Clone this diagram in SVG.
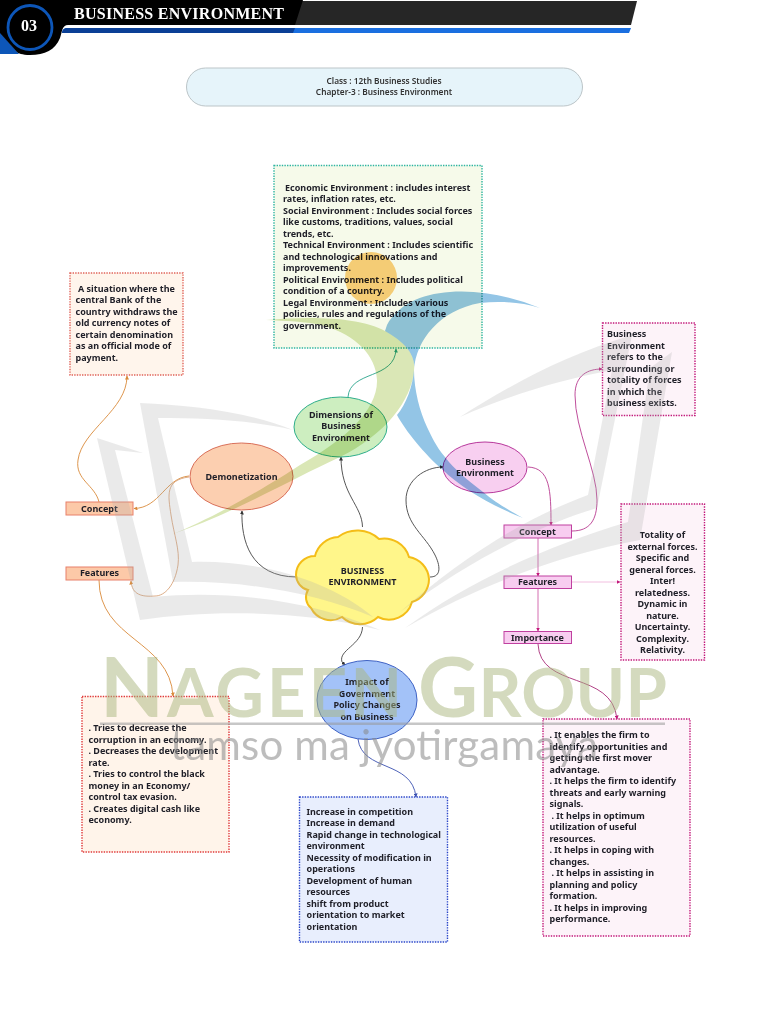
<svg xmlns="http://www.w3.org/2000/svg" width="768" height="1024" viewBox="0 0 768 1024">
<style>
text{font-family:"Noto Sans","DejaVu Sans",sans-serif;font-weight:700;font-size:9px;fill:#1f1f28}
.c{text-anchor:middle}
.box{stroke-width:1.400;stroke-dasharray:1.400 1.200}
.lab{stroke-width:1}
.con{fill:none;stroke-width:.9}
.sw{mix-blend-mode:multiply}
.wm{fill:#aaa;opacity:.25}
.wt{font-family:Lato,"Noto Sans",sans-serif;font-weight:700;fill:#aab77f;opacity:.5}
</style>
<defs>
<marker id="mk" markerWidth="4" markerHeight="4" refX="3.500" refY="2" orient="auto" markerUnits="userSpaceOnUse"><path d="M0,0L4,2L0,4Z" fill="#333"/></marker>
<marker id="mb" markerWidth="4" markerHeight="4" refX="3.500" refY="2" orient="auto" markerUnits="userSpaceOnUse"><path d="M0,0L4,2L0,4Z" fill="#3a50b0"/></marker>
<marker id="mt" markerWidth="4" markerHeight="4" refX="3.500" refY="2" orient="auto" markerUnits="userSpaceOnUse"><path d="M0,0L4,2L0,4Z" fill="#2aa58c"/></marker>
<marker id="mo" markerWidth="4" markerHeight="4" refX="3.500" refY="2" orient="auto" markerUnits="userSpaceOnUse"><path d="M0,0L4,2L0,4Z" fill="#d98a3a"/></marker>
<marker id="mp" markerWidth="4" markerHeight="4" refX="3.500" refY="2" orient="auto" markerUnits="userSpaceOnUse"><path d="M0,0L4,2L0,4Z" fill="#c2187a"/></marker>
</defs>
<rect width="768" height="1024" fill="#fff"/>

<g id="header">
<path d="M0,32L19,54H0Z" fill="#0d56b8"/>
<path d="M290,25L300,1H637L631,25Z" fill="#262626"/>
<path d="M0,0H303L295,25H68C62,25 62,32 60,38C55,50 45,55 30,55C22,55 18,53 17,52L0,33Z" fill="#000"/>
<path d="M66,28H631L629,33H62Q62,29 66,28Z" fill="#1a6fe0"/>
<path d="M66,28H295L293,33H62Q62,29 66,28Z" fill="#0a3f96"/>
<circle cx="30" cy="27.500" r="22" fill="none" stroke="#0d56b8" stroke-width="2.800"/>
<text x="29" y="30.500" class="c" style="font-family:'Liberation Serif',serif;font-weight:700;font-size:16px;fill:#fff">03</text>
<text x="74" y="18.500" textLength="210" style="font-family:'Liberation Serif',serif;font-weight:700;font-size:16px;fill:#fff">BUSINESS ENVIRONMENT</text>
</g>

<g id="title">
<rect x="186.500" y="68" width="396" height="38" rx="19" fill="#e6f4fa" stroke="#bcc5c8" stroke-width="1"/>
<text class="c" x="384" y="84" style="font-size:8.300px;font-weight:600;fill:#333">Class : 12th Business Studies</text>
<text class="c" x="384" y="95" style="font-size:8.300px;font-weight:600;fill:#333">Chapter-3 : Business Environment</text>
</g>

<g id="connectors">
<path class="con" stroke="#444" marker-end="url(#mk)" d="M297,577C250,577 241,540 242,511"/>
<path class="con" stroke="#444" marker-end="url(#mk)" d="M362.500,527C362,505 341,495 341,457"/>
<path class="con" stroke="#444" marker-end="url(#mk)" d="M430,577C442,577 440,565 435,555C425,535 406,525 406,500C406,480 425,467 443,467"/>
<path class="con" stroke="#444" marker-end="url(#mk)" d="M362.500,627C362,645 338,650 342,662L345,665"/>
<path class="con" stroke="#3a50b0" marker-end="url(#mb)" d="M358,739C362,772 412,760 416,797"/>
<path class="con" stroke="#2aa58c" marker-end="url(#mt)" d="M348,397C350,370 395,380 396,349"/>
<path class="con" stroke="#d98a3a" marker-end="url(#mo)" d="M189,476C165,478 160,508 134,508.500"/>
<path class="con" stroke="#d9a47a" marker-end="url(#mo)" d="M189,477C165,480 168,495 171,515C174,535 180,550 178,565C175,585 165,596 155,596C142,597 132,595 131,581"/>
<path class="con" stroke="#d98a3a" marker-end="url(#mo)" d="M99,502C95,485 75,480 78,460C82,430 127,410 127,376"/>
<path class="con" stroke="#d98a3a" marker-end="url(#mo)" d="M99,580C99,640 170,640 173,696"/>
<path class="con" stroke="#b83a90" marker-end="url(#mp)" d="M528,467C550,468 551,490 551,525"/>
<path class="con" stroke="#b83a90" marker-end="url(#mp)" d="M572,531C590,531 597,520 597,500C597,470 575,430 575,395C575,375 588,369 602,369"/>
<path class="con" stroke="#cf5ea8" stroke-width="1.200" marker-end="url(#mp)" d="M538,538V576"/>
<path class="con" stroke="#cf5ea8" stroke-width="1.200" marker-end="url(#mp)" d="M538,589V631"/>
<path class="con" stroke="#f0b8dc" marker-end="url(#mp)" d="M572,582H620"/>
<path class="con" stroke="#a82c78" marker-end="url(#mp)" d="M538,644C540,690 612,670 617,719"/>
</g>

<g id="n-economic">
<rect class="box" x="274" y="165.500" width="208" height="182.500" fill="#f6faea" stroke="#2fb5a0"/>
<text x="283" y="190.500"><tspan x="285">Economic Environment : includes interest</tspan><tspan x="283" dy="11.500">rates, inflation rates, etc.</tspan><tspan x="283" dy="11.500">Social Environment : Includes social forces</tspan><tspan x="283" dy="11.500">like customs, traditions, values, social</tspan><tspan x="283" dy="11.500">trends, etc.</tspan><tspan x="283" dy="11.500">Technical Environment : Includes scientific</tspan><tspan x="283" dy="11.500">and technological innovations and</tspan><tspan x="283" dy="11.500">improvements.</tspan><tspan x="283" dy="11.500">Political Environment : Includes political</tspan><tspan x="283" dy="11.500">condition of a country.</tspan><tspan x="283" dy="11.500">Legal Environment : Includes various</tspan><tspan x="283" dy="11.500">policies, rules and regulations of the</tspan><tspan x="283" dy="11.500">government.</tspan></text>
</g>
<g id="n-demon-concept">
<rect class="box" x="70" y="273" width="113" height="102" fill="#fff5ec" stroke="#e0645a"/>
<text x="75.500" y="291.500"><tspan x="78">A situation where the</tspan><tspan x="75.500" dy="11.500">central Bank of the</tspan><tspan x="75.500" dy="11.500">country withdraws the</tspan><tspan x="75.500" dy="11.500">old currency notes of</tspan><tspan x="75.500" dy="11.500">certain denomination</tspan><tspan x="75.500" dy="11.500">as an official mode of</tspan><tspan x="75.500" dy="11.500">payment.</tspan></text>
</g>
<g id="n-dimensions">
<ellipse cx="340.500" cy="427" rx="46.500" ry="30" fill="#cdeec0" stroke="#2fae8c" stroke-width="1"/>
<text class="c" x="341" y="417.500">Dimensions of<tspan x="341" dy="11.500">Business</tspan><tspan x="341" dy="11.500">Environment</tspan></text>
</g>
<g id="n-demonetization">
<ellipse cx="241.500" cy="476.500" rx="51.500" ry="33.500" fill="#fccfb0" stroke="#d9705a" stroke-width="1"/>
<text class="c" x="241.500" y="479.500">Demonetization</text>
</g>
<g id="n-business">
<ellipse cx="485" cy="467.500" rx="42" ry="25.500" fill="#f8cff0" stroke="#b8389c" stroke-width="1"/>
<text class="c" x="485" y="464.500">Business<tspan x="485" dy="11.500">Environment</tspan></text>
</g>
<g id="n-concept-left">
<rect class="lab" x="66" y="502" width="67" height="13" fill="#fcc9a8" stroke="#e8806a"/>
<text class="c" x="99.500" y="511.500">Concept</text>
</g>
<g id="n-features-left">
<rect class="lab" x="66" y="567" width="67" height="13" fill="#fcc9a8" stroke="#e8806a"/>
<text class="c" x="99.500" y="576">Features</text>
</g>
<g id="n-cloud">
<path d="M296,575A19,19 0 0 1 315,556A25,25 0 0 1 338,537A32,32 0 0 1 379,539A26,26 0 0 1 409,557A24,24 0 0 1 429,579A24,24 0 0 1 412,602A24,24 0 0 1 378,617A26,26 0 0 1 342,617A22,22 0 0 1 311,608A14,14 0 0 1 308,590A16,16 0 0 1 296,575Z" fill="#fff68a" stroke="#f4bd18" stroke-width="2"/>
<text class="c" x="362.500" y="573.500">BUSINESS<tspan x="362.500" dy="11.500">ENVIRONMENT</tspan></text>
</g>
<g id="n-impact">
<ellipse cx="367" cy="700" rx="50" ry="39.500" fill="#a3c2f8" stroke="#3f62c4" stroke-width="1"/>
<text class="c" x="367" y="685">Impact of<tspan x="367" dy="11.500">Government</tspan><tspan x="367" dy="11.500">Policy Changes</tspan><tspan x="367" dy="11.500">on   Business</tspan></text>
</g>
<g id="n-demon-features">
<rect class="box" x="82" y="696.500" width="147" height="155.500" fill="#fff4ea" stroke="#e03a3a"/>
<text x="88.500" y="731"><tspan x="88.500">. Tries to decrease the</tspan><tspan x="88.500" dy="11.500">corruption in an economy.</tspan><tspan x="88.500" dy="11.500">. Decreases the development</tspan><tspan x="88.500" dy="11.500">rate.</tspan><tspan x="88.500" dy="11.500">. Tries to control the black</tspan><tspan x="88.500" dy="11.500">money in an Economy/</tspan><tspan x="88.500" dy="11.500">control tax evasion.</tspan><tspan x="88.500" dy="11.500">. Creates digital cash like</tspan><tspan x="88.500" dy="11.500">economy.</tspan></text>
</g>
<g id="n-impact-list">
<rect class="box" x="299.500" y="797" width="148" height="145" fill="#e8eefd" stroke="#2a45c8"/>
<text x="306.500" y="814.500"><tspan x="306.500">Increase in competition</tspan><tspan x="306.500" dy="11.500">Increase in demand</tspan><tspan x="306.500" dy="11.500">Rapid change in technological</tspan><tspan x="306.500" dy="11.500">environment</tspan><tspan x="306.500" dy="11.500">Necessity of modification in</tspan><tspan x="306.500" dy="11.500">operations</tspan><tspan x="306.500" dy="11.500">Development of human</tspan><tspan x="306.500" dy="11.500">resources</tspan><tspan x="306.500" dy="11.500">shift from product</tspan><tspan x="306.500" dy="11.500">orientation to market</tspan><tspan x="306.500" dy="11.500">orientation</tspan></text>
</g>
<g id="n-biz-definition">
<rect class="box" x="602.500" y="323" width="92.500" height="92.500" fill="#fdf3f9" stroke="#c2187a"/>
<text x="607" y="337"><tspan x="607">Business</tspan><tspan x="607" dy="11.500">Environment</tspan><tspan x="607" dy="11.500">refers to the</tspan><tspan x="607" dy="11.500">surrounding or</tspan><tspan x="607" dy="11.500">totality of forces</tspan><tspan x="607" dy="11.500">in which the</tspan><tspan x="607" dy="11.500">business exists.</tspan></text>
</g>
<g id="n-concept-right">
<rect class="lab" x="504" y="525" width="67.500" height="13" fill="#f8cdf0" stroke="#c040a0"/>
<text class="c" x="537.500" y="534.500">Concept</text>
</g>
<g id="n-features-right">
<rect class="lab" x="504" y="576" width="67.500" height="12.500" fill="#f8cdf0" stroke="#c040a0"/>
<text class="c" x="537.500" y="585">Features</text>
</g>
<g id="n-importance-right">
<rect class="lab" x="504" y="631.500" width="67.500" height="12" fill="#f8cdf0" stroke="#c040a0"/>
<text class="c" x="537.500" y="640.500">Importance</text>
</g>
<g id="n-biz-features">
<rect class="box" x="621" y="504" width="83.500" height="156" fill="#fdf3f9" stroke="#c2187a"/>
<text class="c" x="662.500" y="538">Totality of<tspan x="662.500" dy="11.500">external forces.</tspan><tspan x="662.500" dy="11.500">Specific and</tspan><tspan x="662.500" dy="11.500">general forces.</tspan><tspan x="662.500" dy="11.500">Inter!</tspan><tspan x="662.500" dy="11.500">relatedness.</tspan><tspan x="662.500" dy="11.500">Dynamic in</tspan><tspan x="662.500" dy="11.500">nature.</tspan><tspan x="662.500" dy="11.500">Uncertainty.</tspan><tspan x="662.500" dy="11.500">Complexity.</tspan><tspan x="662.500" dy="11.500">Relativity.</tspan></text>
</g>
<g id="n-biz-importance">
<rect class="box" x="543" y="719" width="147" height="217" fill="#fdf3f9" stroke="#c2187a"/>
<text x="549.500" y="738"><tspan x="549.500">. It enables the firm to</tspan><tspan x="549.500" dy="11.500">identify opportunities and</tspan><tspan x="549.500" dy="11.500">getting the first mover</tspan><tspan x="549.500" dy="11.500">advantage.</tspan><tspan x="549.500" dy="11.500">. It helps the firm to identify</tspan><tspan x="549.500" dy="11.500">threats and early warning</tspan><tspan x="549.500" dy="11.500">signals.</tspan><tspan x="551.500" dy="11.500">. It helps in optimum</tspan><tspan x="549.500" dy="11.500">utilization of useful</tspan><tspan x="549.500" dy="11.500">resources.</tspan><tspan x="549.500" dy="11.500">. It helps in coping with</tspan><tspan x="549.500" dy="11.500">changes.</tspan><tspan x="551.500" dy="11.500">. It helps in assisting in</tspan><tspan x="549.500" dy="11.500">planning and policy</tspan><tspan x="549.500" dy="11.500">formation.</tspan><tspan x="549.500" dy="11.500">. It helps in improving</tspan><tspan x="549.500" dy="11.500">performance.</tspan></text>
</g>

<g id="swooshes">
<path class="sw" fill="#fdd07f" d="M397,278A26,26 0 1 1 345,278A26,26 0 1 1 397,278Z"/>
<path class="sw" fill="#93c5e6" d="M540,308C510,296 480,290 450,292C420,294 398,305 387,325L385,331C405,342 416,355 414,370C416,340 440,310 480,303C500,301 520,302 540,308Z"/>
<path class="sw" fill="#93c5e6" d="M414,370C413,385 406,405 397,415C405,430 425,455 443,470C460,487 490,505 523,518C505,508 495,502 483,492C465,478 455,470 445,457C435,445 432,437 427,427C420,412 414,390 414,370Z"/>
<path class="sw" fill="#dae7b6" d="M266,320C310,316 360,317 385,331C405,342 416,355 414,370C412,400 385,435 340,457C290,480 230,515 170,535C210,520 270,485 300,465C345,440 378,410 377,380C376,355 355,335 325,326C305,321 285,321 266,320Z"/>
</g>

<g id="watermark">
<path class="wm" d="M140,403C190,405 250,412 293,430C250,420 205,418 158,418L192,562C260,560 330,580 373,617C320,595 250,580 173,582Z"/>
<path class="wm" d="M97,438L143,453L115,450L153,597C230,590 310,600 380,630C310,612 220,608 140,620Z"/>
<path class="wm" d="M460,417C510,385 565,355 632,335L597,508C540,525 470,560 400,612C460,560 520,520 588,495L612,370C560,380 510,395 460,417Z"/>
<path class="wm" d="M672,352L640,540C560,555 480,585 405,628C470,580 550,545 628,522L650,368Z"/>
<text class="wt" x="100" y="717" textLength="302" style="font-size:67px"><tspan style="font-size:83px">N</tspan>AGEEN</text>
<text class="wt" x="418" y="717" textLength="249" style="font-size:67px"><tspan style="font-size:83px">G</tspan>ROUP</text>
<rect x="100" y="722.500" width="565" height="2.500" fill="#999" opacity=".55"/>
<text x="170" y="760" textLength="428" style="font-family:Lato,sans-serif;font-weight:400;font-size:42px;fill:#888;opacity:.55">tamso ma jyotirgamaya</text>
</g>
</svg>
